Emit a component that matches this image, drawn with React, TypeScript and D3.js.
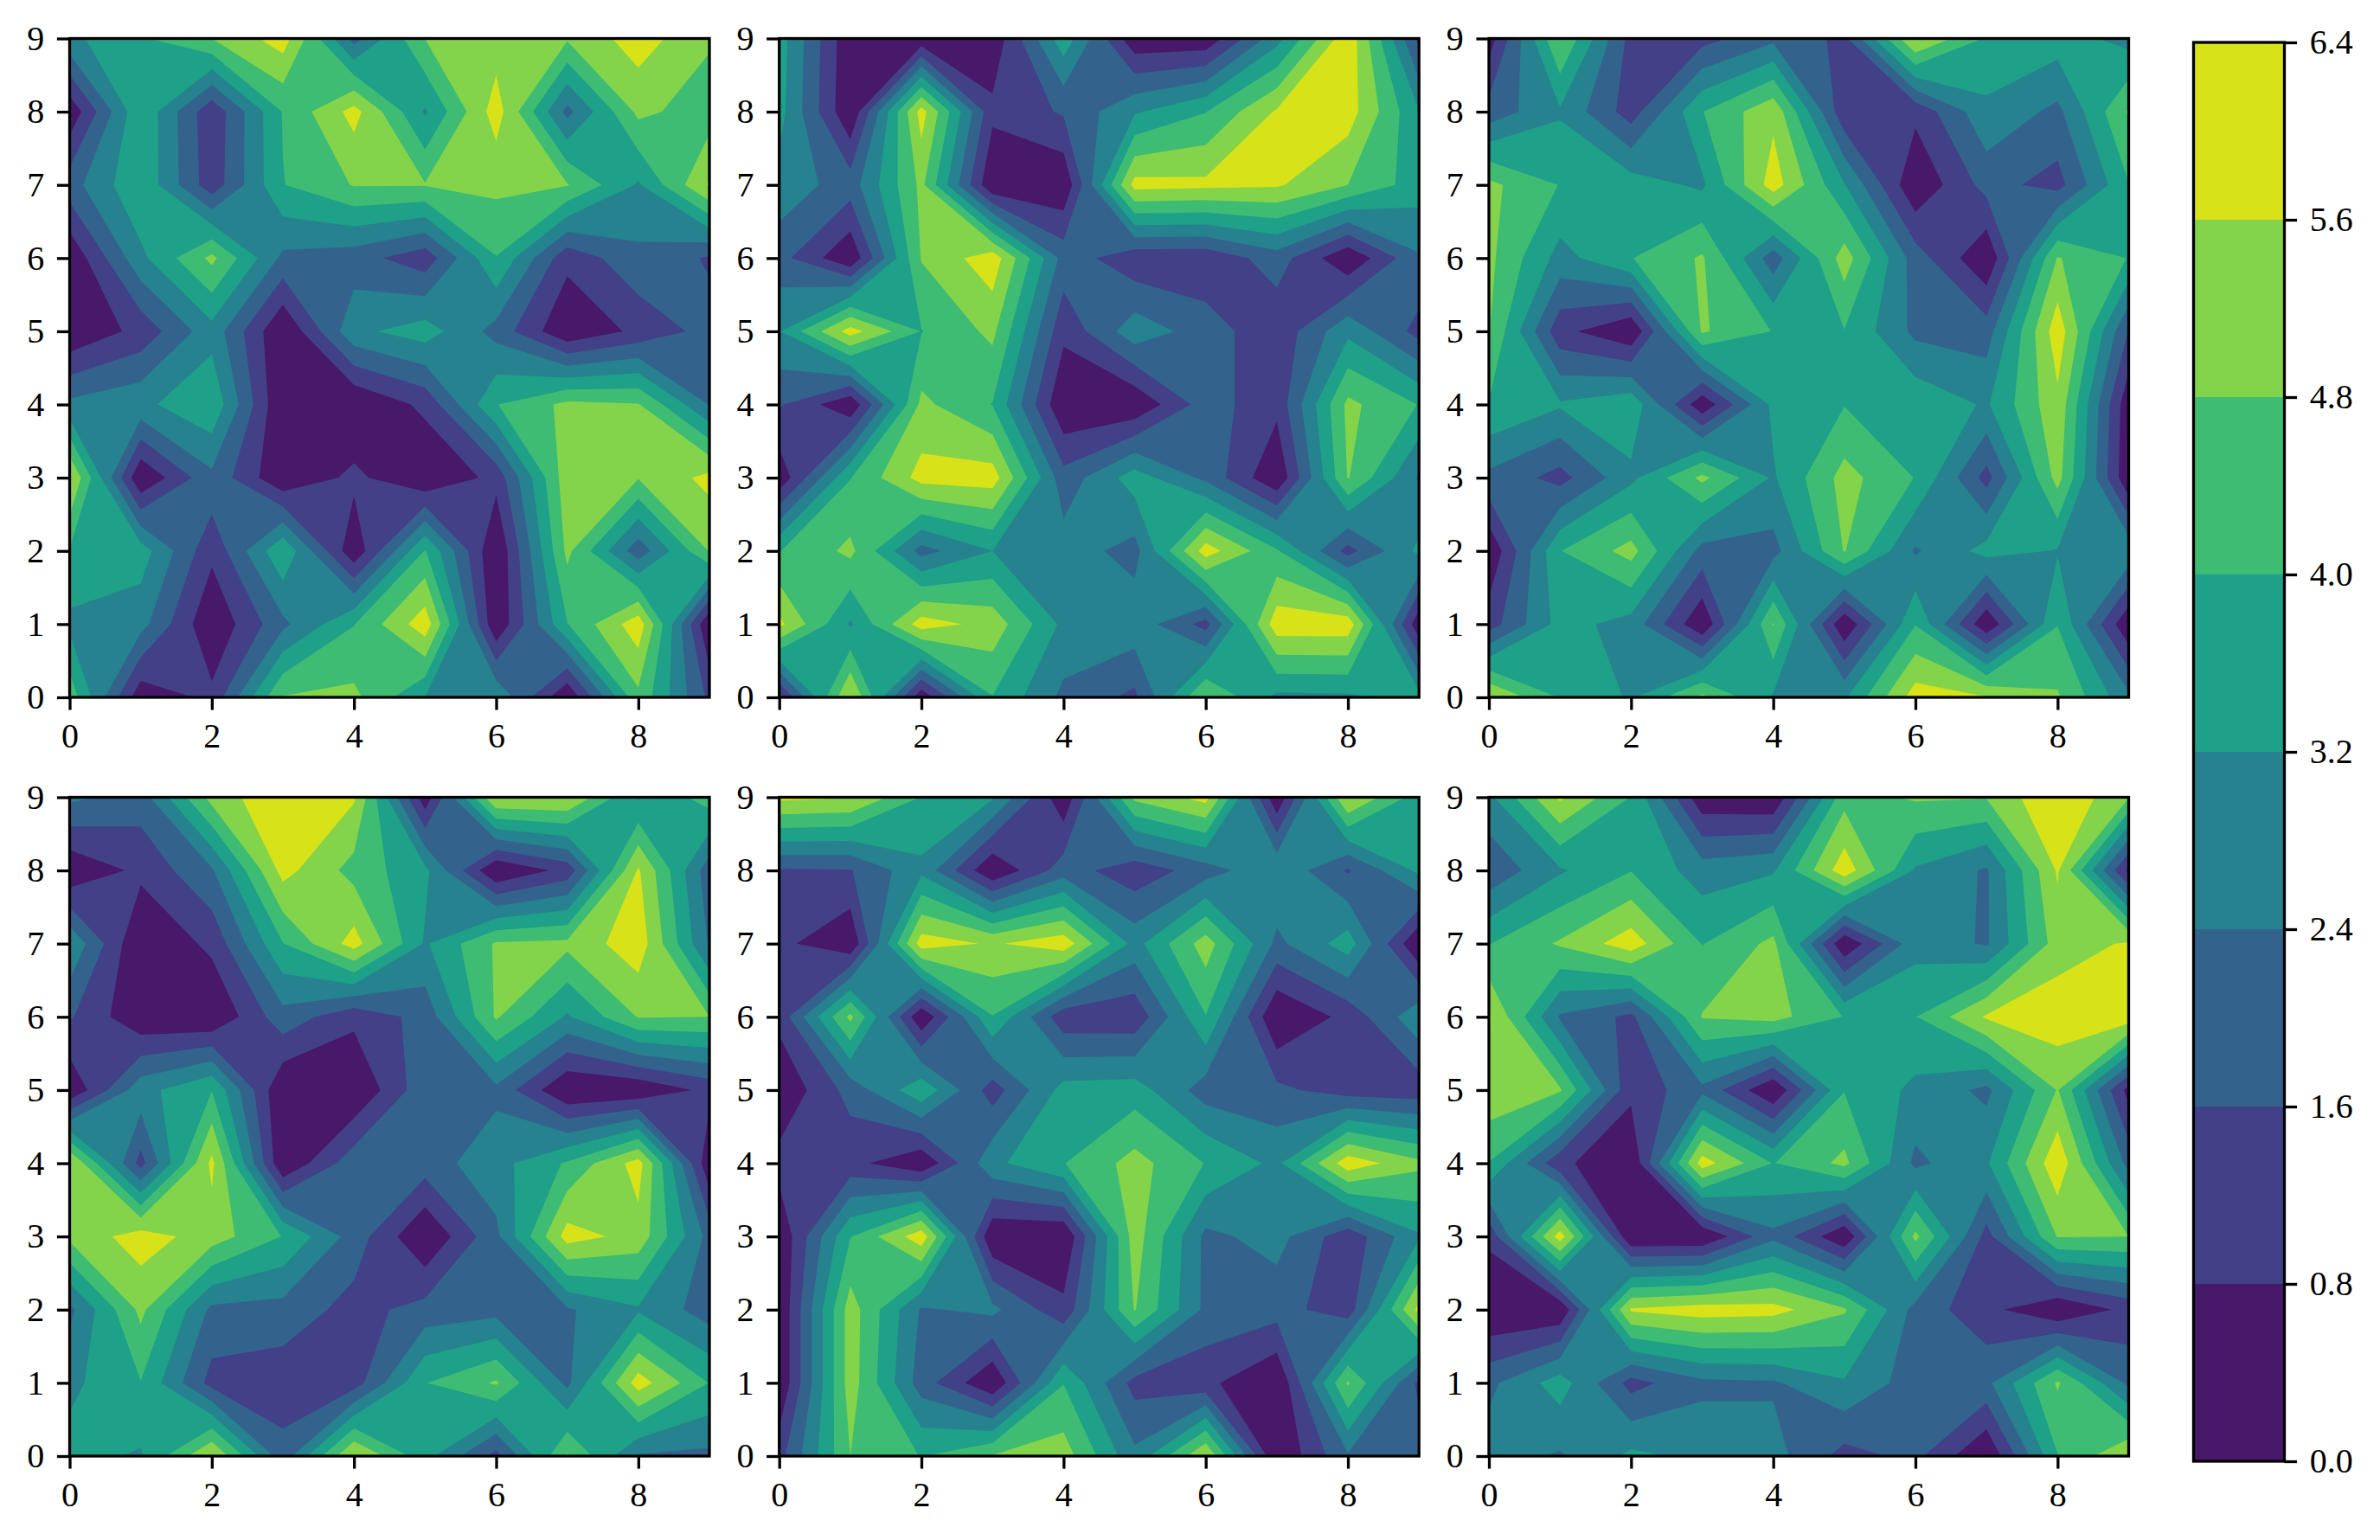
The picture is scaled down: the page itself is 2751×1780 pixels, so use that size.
import React, { useEffect, useRef } from 'react';
import * as d3 from 'd3';

const WIDTH = 2751;
const HEIGHT = 1780;

const levels = [0, 0.8, 1.6, 2.4, 3.2, 4.0, 4.8, 5.6, 6.4];
const xTicks = [0, 2, 4, 6, 8];
const yTicks = [0, 1, 2, 3, 4, 5, 6, 7, 8, 9];

// rows run from y=9 down to y=0, like in the picture
const panelA = [
  [3.0, 3.9, 4.8, 6.0, 2.1, 4.81, 5.2, 4.9, 6.0, 4.9],
  [0.2, 3.9, 1.0, 4.05, 5.9, 3.1, 6.0, 2.15, 5.0, 4.4],
  [2.05, 3.9, 1.1, 3.97, 4.85, 4.85, 5.0, 4.85, 3.1, 5.7],
  [0.12, 3.0, 5.0, 2.2, 1.95, 1.1, 3.97, 1.03, 2.2, 1.5],
  [0.1, 1.05, 2.9, 0.0, 3.0, 3.6, 2.1, 0.1, 1.0, 1.9],
  [2.6, 3.0, 3.85, 0.0, 0.0, 1.0, 3.97, 5.0, 4.85, 2.35],
  [5.7, 0.05, 2.2, 0.1, 1.0, 0.03, 1.05, 5.3, 4.85, 5.85],
  [3.95, 3.6, 1.0, 3.9, 0.18, 4.05, 0.0, 5.0, 1.9, 4.85],
  [3.0, 2.7, 0.1, 2.2, 3.97, 6.1, 0.1, 3.97, 6.1, 0.0],
  [4.5, 0.25, 1.0, 4.85, 5.0, 3.2, 3.1, 0.05, 4.6, 1.4],
];
const panelB = [
  [3.6, 0.15, 0.2, 0.2, 3.7, 0.2, 0.2, 2.9, 6.2, 1.4],
  [3.5, 0.08, 5.95, 1.0, 1.7, 3.1, 3.97, 5.7, 6.0, 3.25],
  [2.9, 2.0, 5.0, 0.05, 0.1, 5.9, 5.8, 5.7, 4.8, 3.6],
  [1.9, 0.1, 4.85, 6.1, 2.1, 1.0, 1.0, 2.0, 0.1, 2.3],
  [3.15, 5.95, 3.97, 5.0, 1.0, 2.9, 2.0, 1.02, 3.0, 1.3],
  [1.7, 0.12, 5.0, 3.97, 0.05, 0.1, 2.0, 1.02, 5.0, 3.97],
  [0.2, 3.97, 5.9, 6.0, 1.9, 3.6, 2.2, 0.08, 4.85, 2.3],
  [3.97, 5.0, 2.1, 3.2, 2.8, 2.1, 6.0, 4.1, 1.3, 3.4],
  [5.8, 3.1, 6.0, 5.3, 3.0, 2.9, 1.3, 6.1, 6.1, 0.2],
  [0.6, 5.7, 0.2, 3.97, 2.2, 1.4, 4.9, 3.0, 3.05, 3.5],
];
const panelC = [
  [0.4, 4.85, 1.3, 1.3, 2.2, 1.4, 5.7, 3.9, 3.6, 2.9],
  [1.9, 3.1, 1.2, 3.97, 5.4, 1.0, 1.0, 3.0, 2.2, 4.9],
  [5.0, 3.97, 3.6, 3.05, 6.0, 3.25, 0.1, 1.9, 1.3, 3.97],
  [5.0, 2.9, 3.97, 4.9, 1.95, 5.2, 2.0, 0.08, 4.85, 3.97],
  [4.85, 1.05, 0.05, 4.9, 3.97, 3.97, 2.2, 2.0, 6.1, 1.55],
  [3.95, 3.3, 3.8, 0.2, 3.4, 3.97, 3.8, 3.1, 5.4, 0.2],
  [2.2, 1.3, 3.0, 5.0, 3.1, 5.1, 3.97, 1.3, 5.1, 0.1],
  [0.1, 3.97, 5.1, 2.1, 2.1, 4.85, 2.3, 3.5, 3.15, 3.0],
  [1.2, 3.5, 2.9, 0.08, 4.85, 0.1, 3.97, 0.12, 3.97, 0.1],
  [5.65, 3.95, 3.1, 5.0, 3.1, 3.1, 6.0, 5.65, 4.9, 2.6],
];
const panelD = [
  [2.6, 2.0, 5.1, 6.3, 5.7, 0.3, 5.65, 5.65, 3.1, 4.4],
  [0.1, 1.0, 2.3, 5.9, 4.5, 3.4, 0.0, 1.08, 5.7, 1.9],
  [3.1, 0.0, 1.0, 3.97, 5.95, 3.1, 4.9, 5.0, 6.1, 2.3],
  [1.7, 0.12, 0.0, 2.1, 1.0, 1.9, 4.9, 3.1, 4.85, 4.8],
  [0.1, 2.9, 3.97, 0.0, 0.0, 2.15, 2.2, 0.0, 0.1, 1.03],
  [5.65, 1.3, 5.8, 0.05, 2.1, 2.0, 2.9, 4.1, 5.95, 0.15],
  [5.0, 6.0, 5.2, 3.97, 2.05, 0.0, 2.2, 5.95, 5.3, 2.1],
  [2.2, 5.0, 2.2, 2.1, 1.3, 1.9, 2.1, 2.3, 3.1, 2.0],
  [3.0, 3.97, 1.3, 1.1, 1.2, 3.97, 4.9, 2.2, 6.0, 3.97],
  [3.5, 3.1, 5.65, 1.9, 5.7, 3.5, 1.3, 4.9, 2.3, 2.2],
];
const panelE = [
  [5.8, 5.65, 3.97, 3.3, 0.2, 5.0, 5.9, 0.15, 5.7, 3.6],
  [1.5, 1.55, 3.0, 0.05, 2.0, 1.08, 2.0, 3.1, 1.5, 3.4],
  [1.03, 0.1, 6.0, 5.5, 6.1, 2.9, 5.2, 2.2, 3.6, 0.0],
  [1.05, 5.0, 0.1, 3.97, 1.05, 1.0, 3.97, 0.0, 1.05, 3.0],
  [0.1, 1.9, 3.8, 1.2, 3.5, 3.6, 2.0, 1.8, 1.19, 1.11],
  [1.1, 1.05, 0.1, 3.0, 3.97, 5.1, 3.97, 3.0, 6.1, 5.0],
  [0.1, 3.97, 6.1, 0.08, 0.0, 5.2, 2.2, 2.7, 1.05, 3.1],
  [0.05, 5.2, 2.3, 2.6, 1.03, 4.85, 2.2, 1.93, 1.13, 5.85],
  [0.05, 5.2, 2.0, 0.05, 3.97, 1.3, 1.0, 0.0, 4.9, 1.4],
  [1.3, 4.8, 3.97, 4.85, 5.2, 2.6, 5.6, 0.0, 2.3, 2.0],
];
const panelF = [
  [3.0, 5.75, 3.97, 0.2, 0.1, 4.5, 4.9, 4.85, 6.4, 4.85],
  [1.8, 3.1, 3.97, 2.8, 3.1, 6.1, 3.1, 2.3, 5.7, 0.6],
  [3.97, 4.9, 6.05, 3.97, 5.0, 0.1, 2.9, 2.3, 5.2, 5.7],
  [5.7, 2.3, 1.4, 4.85, 5.1, 3.97, 3.97, 5.7, 6.1, 6.1],
  [5.4, 4.9, 1.0, 2.2, 0.05, 3.97, 3.0, 2.2, 4.85, 0.5],
  [3.97, 1.0, 0.05, 6.0, 3.97, 5.0, 2.2, 3.1, 6.2, 2.1],
  [1.0, 6.0, 0.05, 0.03, 2.2, 0.1, 5.0, 1.3, 4.85, 4.8],
  [0.0, 0.07, 5.7, 6.0, 5.9, 4.9, 2.1, 1.04, 0.03, 1.04],
  [2.2, 3.6, 1.3, 2.2, 2.3, 3.1, 2.0, 2.2, 4.9, 2.2],
  [2.8, 2.3, 3.4, 3.0, 2.7, 1.3, 1.8, 0.0, 3.97, 5.6],
];
const panels = [panelA, panelB, panelC, panelD, panelE, panelF];

// pixel layout of the figure
const colLeft = [80.5, 900.7, 1721];
const rowTop = [44.5, 921.5];
const panelW = 739.5;
const panelH = 761.5;
const tickLen = 14.6;
const tickPad = 14.6;
const lineW = 3.3;
const fontSize = 40;
const fontFamily = '"Liberation Serif", serif';

const bandColor = (i: number) => d3.interpolateViridis((i + 0.5) / (levels.length - 1));

const styleAxis = (g: any) => {
  g.selectAll('.tick text')
    .attr('font-family', fontFamily)
    .attr('font-size', fontSize)
    .attr('fill', '#000');
  g.selectAll('.tick line').attr('stroke', '#000').attr('stroke-width', lineW);
  g.select('.domain').remove();
};

// Area of one grid cell where value >= t, one or two polygons in grid coordinates.
// d3.contours resolves saddles one fixed way, matplotlib uses the cell mean, so do it per cell.
const cellPolygons = (cx: number, cy: number, vals: number[], t: number) => {
  const corners = [[cx, cy], [cx + 1, cy], [cx + 1, cy + 1], [cx, cy + 1]];
  const cross = (i: number) => {
    const j = (i + 1) % 4;
    const f = (t - vals[i]) / (vals[j] - vals[i]);
    return [
      corners[i][0] + (corners[j][0] - corners[i][0]) * f,
      corners[i][1] + (corners[j][1] - corners[i][1]) * f,
    ];
  };
  const above = vals.map(v => v >= t);
  const saddle = above[0] === above[2] && above[1] === above[3] && above[0] !== above[1];
  if (saddle && d3.mean(vals) < t) {
    const a = above[0] ? 0 : 1;
    const b = a + 2;
    return [
      [corners[a], cross(a), cross((a + 3) % 4)],
      [corners[b], cross(b), cross((b + 3) % 4)],
    ];
  }
  const poly: number[][] = [];
  vals.forEach((v, i) => {
    if (above[i]) poly.push(corners[i]);
    if (above[i] !== above[(i + 1) % 4]) poly.push(cross(i));
  });
  return poly.length ? [poly] : [];
};

const App = () => {
  const svgRef = useRef<SVGSVGElement>(null);

  useEffect(() => {
    const svg = d3.select(svgRef.current);
    svg.selectAll('*').remove();

    panels.forEach((rows, idx) => {
      const left = colLeft[idx % 3];
      const top = rowTop[Math.floor(idx / 3)];
      const x = d3.scaleLinear().domain([0, 9]).range([left, left + panelW]);
      const y = d3.scaleLinear().domain([0, 9]).range([top + panelH, top]);
      const grid = rows.slice().reverse();

      svg.append('g')
        .selectAll('path')
        .data(levels.slice(0, -1))
        .enter().append('path')
          .attr('d', t => {
            const p = d3.path();
            d3.range(9).forEach(cy => d3.range(9).forEach(cx => {
              const vals = [grid[cy][cx], grid[cy][cx + 1], grid[cy + 1][cx + 1], grid[cy + 1][cx]];
              cellPolygons(cx, cy, vals, t).forEach(poly => {
                poly.forEach(([px, py], i) => {
                  if (i === 0) p.moveTo(x(px), y(py));
                  else p.lineTo(x(px), y(py));
                });
                p.closePath();
              });
            }));
            return p.toString();
          })
          .attr('fill', (d, i) => bandColor(i));

      svg.append('g')
        .attr('transform', `translate(0,${top + panelH})`)
        .call(d3.axisBottom(x).tickValues(xTicks).tickFormat(d3.format('d')).tickSize(tickLen).tickPadding(tickPad))
        .call(styleAxis);

      svg.append('g')
        .attr('transform', `translate(${left},0)`)
        .call(d3.axisLeft(y).tickValues(yTicks).tickFormat(d3.format('d')).tickSize(tickLen).tickPadding(tickPad))
        .call(styleAxis);

      svg.append('rect')
        .attr('x', left).attr('y', top)
        .attr('width', panelW).attr('height', panelH)
        .attr('fill', 'none')
        .attr('stroke', '#000')
        .attr('stroke-width', lineW);
    });

    // colorbar
    const barLeft = 2535.5;
    const barW = 105;
    const barTop = 49;
    const barBottom = 1689;
    const c = d3.scaleLinear().domain([0, 6.4]).range([barBottom, barTop]);

    svg.append('g')
      .selectAll('rect')
      .data(d3.pairs(levels))
      .enter().append('rect')
        .attr('x', barLeft)
        .attr('y', d => c(d[1]))
        .attr('width', barW)
        .attr('height', d => c(d[0]) - c(d[1]))
        .attr('fill', (d, i) => bandColor(i));

    svg.append('g')
      .attr('transform', `translate(${barLeft + barW},0)`)
      .call(d3.axisRight(c).tickValues(levels).tickFormat(d3.format('.1f')).tickSize(tickLen).tickPadding(tickPad))
      .call(styleAxis);

    svg.append('rect')
      .attr('x', barLeft).attr('y', barTop)
      .attr('width', barW).attr('height', barBottom - barTop)
      .attr('fill', 'none')
      .attr('stroke', '#000')
      .attr('stroke-width', lineW);
  }, []);

  return (
    <svg
      ref={svgRef}
      width={WIDTH}
      height={HEIGHT}
      style={{ position: 'absolute', left: 0, top: 0, background: 'white' }}
    />
  );
};

export default App;
